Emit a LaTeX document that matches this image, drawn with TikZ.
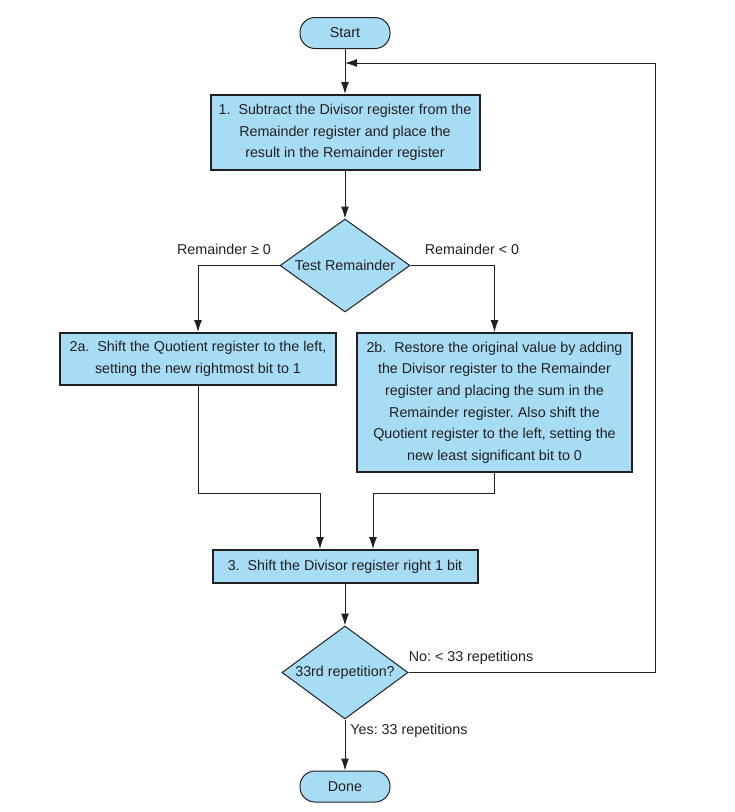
\documentclass[tikz,border=0pt]{standalone}
\usepackage{fontspec}
\setmainfont{Liberation Sans}
\usetikzlibrary{shapes.geometric,arrows.meta}
\definecolor{boxblue}{RGB}{166,221,245}
\definecolor{ink}{RGB}{35,31,32}
\begin{document}
\frenchspacing
\begin{tikzpicture}[x=1pt,y=-1pt,
  every node/.style={font=\fontsize{14.3}{21.6}\selectfont, text=ink},
  procbox/.style={draw=ink, line width=2pt, fill=boxblue, align=center, inner sep=0pt},
  termbox/.style={draw=ink, line width=1pt, fill=boxblue, rounded corners=15pt, minimum width=90pt, minimum height=31pt, inner sep=0pt},
  decbox/.style={draw=ink, line width=1pt, fill=boxblue, diamond, inner sep=0pt, minimum width=130pt, minimum height=93pt},
  conn/.style={draw=ink, line width=1pt},
  arr/.style={conn, -{Latex[length=12pt,width=8pt]}},
  lbl/.style={inner sep=0pt}
]
\useasboundingbox (0,0) rectangle (735,812);
\node[termbox] (start) at (345,33) {Start};
\node[procbox, minimum width=269pt, minimum height=75pt] (b1) at (345,132.5)
  {1.\ \ Subtract the Divisor register from the\\Remainder register and place the\\result in the Remainder register};
\node[decbox] (d1) at (345,265.5) {\makebox[0pt]{Test Remainder}};
\node[procbox, minimum width=276pt, minimum height=52pt] (b2a) at (198,359)
  {2a.\ \ Shift the Quotient register to the left,\\setting the new rightmost bit to 1};
\node[procbox, minimum width=275pt, minimum height=139pt] (b2b) at (494.5,402.5)
  {2b.\ \ Restore the original value by adding\\the Divisor register to the Remainder\\register and placing the sum in the\\Remainder register. Also shift the\\Quotient register to the left, setting the\\new least significant bit to 0};
\node[procbox, minimum width=265pt, minimum height=33pt] (b3) at (345,566.5)
  {3.\ \ Shift the Divisor register right 1 bit};
\node[decbox, minimum width=126pt] (d2) at (345,672.5) {\makebox[0pt]{33rd repetition?}};
\node[termbox] (done) at (345,786.5) {Done};

\coordinate (fb) at (345,63);
\coordinate (fbc) at (655,63);
\coordinate (j1) at (320,493);
\coordinate (j2) at (373,493);

\draw[arr] (start) -- (b1);
\draw[arr] (b1) -- (d1.north);
\draw[arr] (d1.west) -| (b2a.north);
\draw[arr] (d1.east) -| (b2b.north);
\draw[arr] (b2a.south) |- (j1) -- (j1 |- b3.north);
\draw[arr] (b2b.south) |- (j2) -- (j2 |- b3.north);
\draw[arr] (b3) -- (d2.north);
\draw[arr] (d2.south) -- (done.north);
\draw[arr] (d2.east) -| (fbc) -- (fb);

\node[lbl] (l1) at (224,249) {Remainder ≥ 0};
\node[lbl] (l2) at (472,249) {Remainder < 0};
\node[lbl] (l3) at (471,658) {No: < 33 repetitions};
\node[lbl] (l4) at (409,731) {Yes: 33 repetitions};
\end{tikzpicture}
\end{document}
